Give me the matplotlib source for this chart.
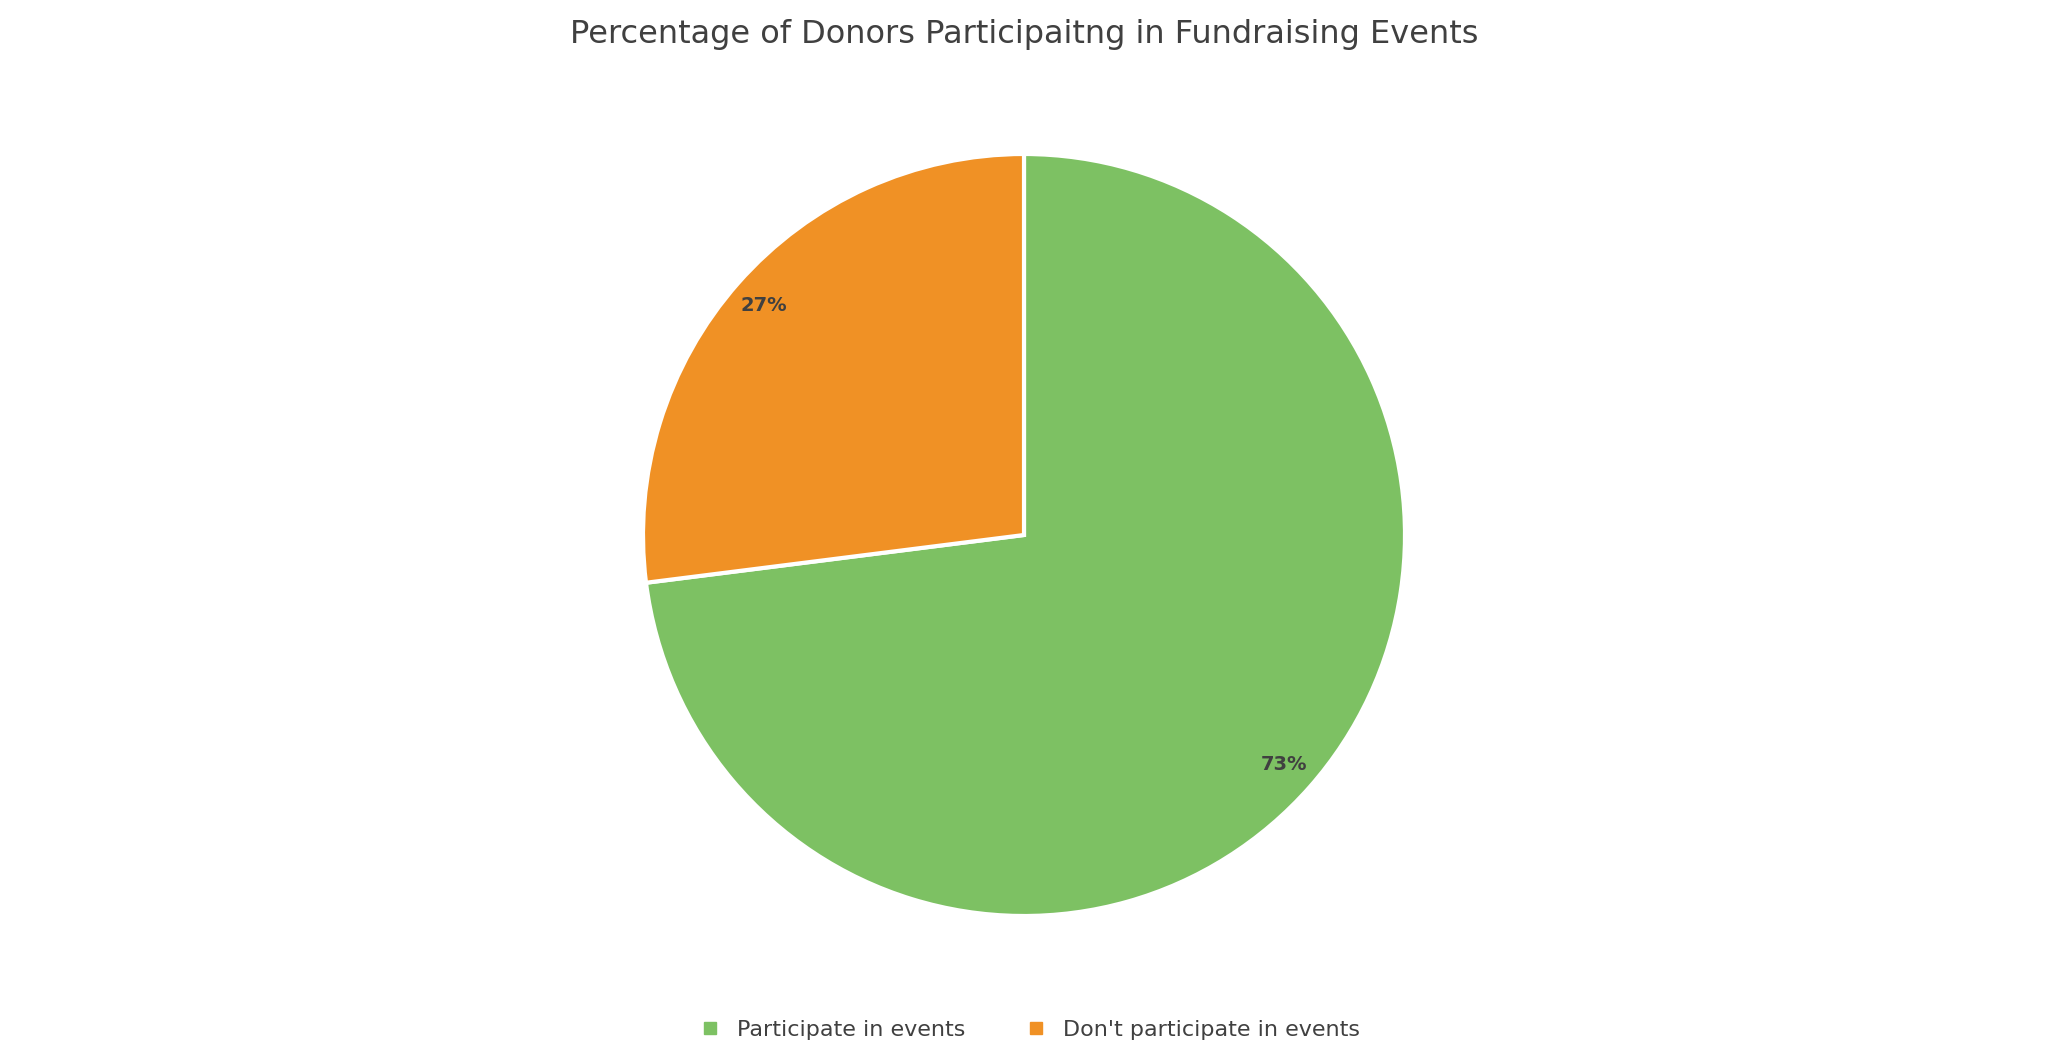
import matplotlib
matplotlib.use("Agg")
import matplotlib.pyplot as plt
from matplotlib.lines import Line2D

labels = ["Participate in events", "Don't participate in events"]
values = [73, 27]
colors = ["#7DC163", "#F09125"]

W, H = 2048, 1058
fig = plt.figure(figsize=(W/100, H/100), dpi=100)
r = 381
cx, cy = 1024, H - 535
ax = fig.add_axes([(cx - r)/W, (cy - r)/H, 2*r/W, 2*r/H])
ax.pie(values, colors=colors, startangle=90, counterclock=False,
       autopct=lambda p: f"{p:.0f}%", pctdistance=0.91,
       wedgeprops=dict(edgecolor="white", linewidth=3),
       textprops=dict(fontsize=14, fontweight="bold", color="#404040"))
ax.set_xlim(-1, 1); ax.set_ylim(-1, 1); ax.set_aspect("equal")
ax.axis("off")

fig.text(0.5, 1 - 35/H, "Percentage of Donors Participaitng in Fundraising Events",
         ha="center", va="center", fontsize=23, color="#404040")
handles = [Line2D([], [], marker="s", linestyle="", color=c, markersize=8) for c in colors]
fig.legend(handles, labels, loc="center", bbox_to_anchor=(0.5, 28/H), ncol=2,
           frameon=False, fontsize=16, labelcolor="#404040", handletextpad=0.2,
           columnspacing=2.2)
fig.savefig("out.png", dpi=100, facecolor="white")
